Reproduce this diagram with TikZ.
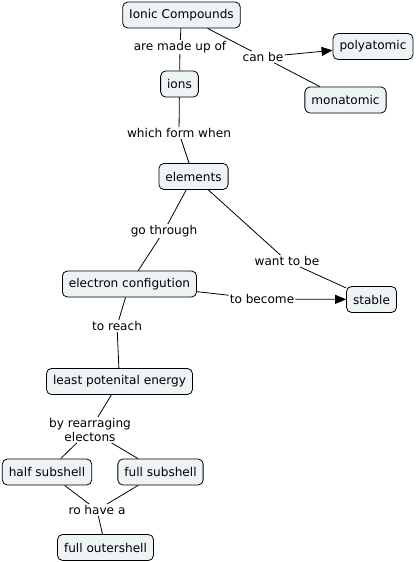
\documentclass[tikz,border=0pt]{standalone}
\usepackage{fontspec}
\setmainfont{DejaVu Sans}
\usepackage{tikz}
\usetikzlibrary{arrows.meta}
\definecolor{conceptfill}{RGB}{238,243,245}
\tikzset{
  concept/.style={
    draw=black,
    fill=conceptfill,
    rounded corners=5pt,
    line width=0.8pt,
    minimum height=26pt,
    inner xsep=6.5pt,
    font=\fontsize{12.1}{14}\selectfont
  },
  phrase/.style={
    inner sep=1pt,
    align=center,
    font=\fontsize{12.1}{14}\selectfont
  },
  link/.style={
    draw=black,
    line width=0.8pt
  },
  linkarrow/.style={
    link,
    -{Triangle[length=11pt,width=9pt]}
  }
}

\begin{document}
\begin{tikzpicture}[x=1pt, y=-1pt]
    \useasboundingbox[fill=white] (0,0) rectangle (416,562);

    % concepts
    \node[concept] (ionic) at (181.5,15) {Ionic Compounds};
    \node[concept] (poly) at (373,46.5) {polyatomic};
    \node[concept] (mono) at (345.5,100) {monatomic};
    \node[concept] (ions) at (179.5,84) {ions};
    \node[concept] (elem) at (193.5,176.5) {elements};
    \node[concept] (econf) at (129.5,284) {electron configution};
    \node[concept] (stable) at (371.5,299.5) {stable};
    \node[concept] (least) at (119.5,381.5) {least potenital energy};
    \node[concept] (half) at (47,472) {half subshell};
    \node[concept] (fullsub) at (160.5,472) {full subshell};
    \node[concept] (outer) at (105.5,547.5) {full outershell};

    % linking phrases
    \node[phrase] (madeup) at (180,47) {are made up of};
    \node[phrase] (canbe) at (263,57) {can be};
    \node[phrase] (form) at (179,133) {which form when};
    \node[phrase] (gothru) at (164,231) {go through};
    \node[phrase] (wantbe) at (287,261) {want to be};
    \node[phrase] (become) at (262,299) {to become};
    \node[phrase] (reach) at (117,326) {to reach};
    \node[phrase] (rearr) at (90,430) {by rearraging\\electons};
    \node[phrase] (rohave) at (97,510) {ro have a};

    % connections
    \draw[link] (ionic) -- (madeup) -- (ions);
    \draw[link] (ionic) -- (canbe);
    \draw[linkarrow] (canbe) -- (poly);
    \draw[link] (canbe) -- (mono);
    \draw[link] (ions) -- (form) -- (elem);
    \draw[link] (elem) -- (gothru) -- (econf);
    \draw[link] (elem) -- (wantbe) -- (stable);
    \draw[link] (econf) -- (become);
    \draw[linkarrow] (become) -- (stable);
    \draw[link] (econf) -- (reach) -- (least);
    \draw[link] (least) -- (rearr);
    \draw[link] (rearr) -- (half);
    \draw[link] (rearr) -- (fullsub);
    \draw[link] (half) -- (rohave);
    \draw[link] (fullsub) -- (rohave);
    \draw[link] (rohave) -- (outer);

\end{tikzpicture}
\end{document}
